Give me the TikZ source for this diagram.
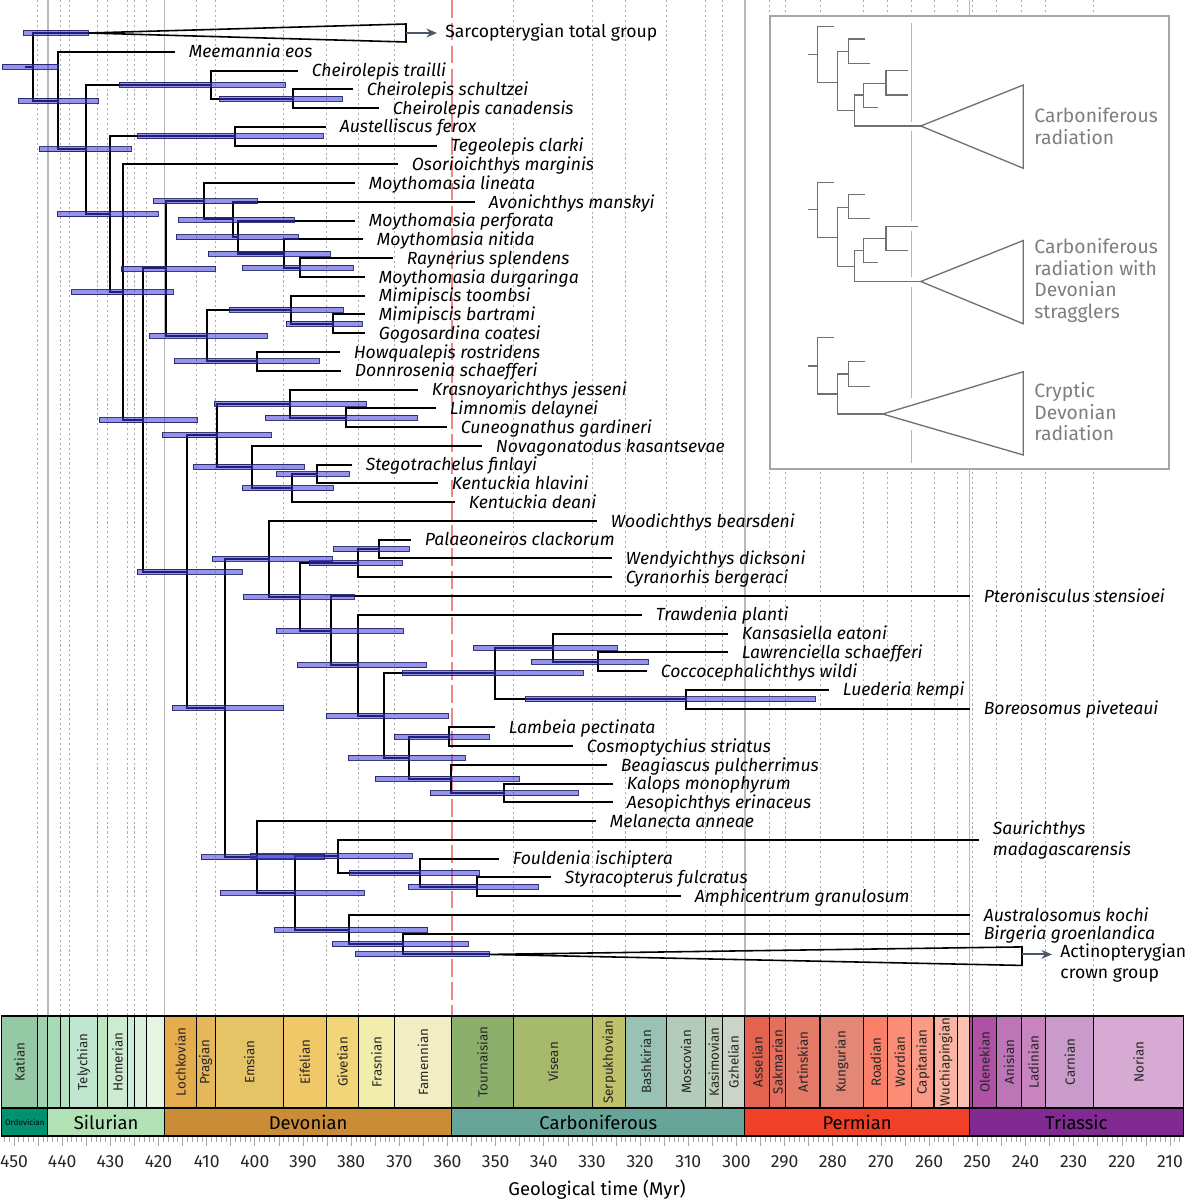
\documentclass[tikz,border=0pt]{standalone}
\usepackage{fontspec}
\setmainfont{Fira Sans}
\usetikzlibrary{positioning,calc,arrows.meta}

% tree colours
\definecolor{hpdfill}{RGB}{60,60,220}
\definecolor{hpdline}{RGB}{25,25,95}
\definecolor{arrowgrey}{RGB}{75,88,108}
\definecolor{insetgrey}{RGB}{112,112,112}
\definecolor{devline}{RGB}{240,135,135}
\definecolor{insetred}{RGB}{232,160,165}
% stage colours
\definecolor{Kat}{HTML}{95C8A5}\definecolor{Hir}{HTML}{A3D2B2}
\definecolor{Rhu}{HTML}{A6DCB5}\definecolor{Aer}{HTML}{B3E1C2}
\definecolor{Tel}{HTML}{BFE6CF}\definecolor{She}{HTML}{BFE6C3}
\definecolor{Hom}{HTML}{CCEBD1}\definecolor{Gor}{HTML}{CCECDD}
\definecolor{Lud}{HTML}{D9F0DF}\definecolor{Pri}{HTML}{E6F5E1}
\definecolor{Loc}{HTML}{E5AC4D}\definecolor{Pra}{HTML}{E5B75A}
\definecolor{Ems}{HTML}{E5C468}\definecolor{Eif}{HTML}{F1C868}
\definecolor{Giv}{HTML}{F1D576}\definecolor{Fra}{HTML}{F2EDAD}
\definecolor{Fam}{HTML}{F2EDC5}
\definecolor{Tou}{HTML}{8CB06C}\definecolor{Vis}{HTML}{A6B96C}
\definecolor{Ser}{HTML}{BFC26B}\definecolor{Bas}{HTML}{99C2B5}
\definecolor{Mos}{HTML}{B3CBB9}\definecolor{Kas}{HTML}{BFD0BA}
\definecolor{Gzh}{HTML}{CCD4C7}
\definecolor{Ass}{HTML}{E36350}\definecolor{Sak}{HTML}{E36F5C}
\definecolor{Art}{HTML}{E37B68}\definecolor{Kun}{HTML}{E38776}
\definecolor{Roa}{HTML}{FB8069}\definecolor{Wor}{HTML}{FB8D76}
\definecolor{Cap}{HTML}{FB9A85}\definecolor{Wuc}{HTML}{FCB4A2}
\definecolor{Cha}{HTML}{FCC0B2}
\definecolor{Ind}{HTML}{A4469F}\definecolor{Ole}{HTML}{B051A5}
\definecolor{Ani}{HTML}{BC75B7}\definecolor{Lad}{HTML}{C983BF}
\definecolor{Car}{HTML}{C99BCB}\definecolor{Nor}{HTML}{D6AAD3}
% period colours
\definecolor{Ord}{HTML}{009270}\definecolor{Sil}{HTML}{B3E1B6}
\definecolor{Dev}{HTML}{CB8C37}\definecolor{Carb}{HTML}{67A599}
\definecolor{Perm}{HTML}{F04028}\definecolor{Tri}{HTML}{812B92}

\pgfdeclarelayer{background}
\pgfdeclarelayer{bars}
\pgfsetlayers{background,main,bars}

\tikzset{
  branch/.style={line width=1.15pt, line join=miter},
  hpd/.style={fill=hpdfill, fill opacity=0.55, draw=hpdline, draw opacity=0.85, line width=0.5pt},
  taxon/.style={font=\fontsize{10}{12}\selectfont\itshape, inner sep=0pt, text height=0.7em, text depth=0pt},
  twoline/.style={font=\fontsize{10}{12}\selectfont\itshape, inner sep=0pt, align=left},
  cladelabel/.style={font=\fontsize{10}{12}\selectfont, inner sep=0pt, align=left},
  grouptri/.style={line width=0.9pt, line join=miter},
  grouparrow/.style={arrowgrey, line width=1.1pt, -{Stealth[length=6pt,width=5pt]}},
  stagegrid/.style={gray!65, line width=0.5pt, dash pattern=on 1.2pt off 1.6pt},
  periodgrid/.style={gray!55, line width=0.8pt},
  devgrid/.style={devline, line width=1.1pt, dash pattern=on 10pt off 3pt},
  stagebox/.style={draw=black, line width=0.6pt},
  stagename/.style={rotate=90, font=\fontsize{7.6}{8}\selectfont, text=black!85},
  periodname/.style={font=\fontsize{10.5}{12}\selectfont},
  ticklabel/.style={font=\fontsize{10}{12}\selectfont, text=black!85},
  tick/.style={gray!70, line width=0.4pt},
  mini/.style={insetgrey, line width=0.75pt, line join=miter},
  minilabel/.style={insetgrey!90, font=\fontsize{11}{12.2}\selectfont, align=left, inner sep=0pt},
}

% HPD bar at the height of a named node
\newcommand{\hpdbar}[3]{%
  \begin{pgfonlayer}{bars}
    \draw[hpd] (#2,0 |- #1) ++(0,-0.133) rectangle ++(#3-#2,0.266);
  \end{pgfonlayer}}
% node: name, x, upper child, lower child, bar from, bar to
\newcommand{\clade}[6]{%
  \coordinate (m#1) at ($(#3)!0.5!(#4)$);
  \coordinate (#1) at (#2,0 |- m#1);
  \draw[branch] (#3) -| (#1) |- (#4);
  \hpdbar{#1}{#5}{#6}}

\begin{document}
\begin{tikzpicture}[x=0.02cm, y=-0.02cm]
\useasboundingbox (0,0) rectangle (1194,1200);

% time grid
\begin{pgfonlayer}{background}
  \foreach \gx in {37.1,60.5,69.7,97.6,107.9,127.1,134.7,146.6,196.3,215.1,283.2,326.4,358.6,394.2,513.6,592.4,625.8,666.3,705.6,722.1,769.9,785.3,820,863.5,887.8,911.6,934,957.9,972.5,996.4,1021.4,1045.7,1093.9}
    \draw[stagegrid] (\gx,0) -- (\gx,1016);
  \foreach \gx in {47.8,164.6,744.9,969.4}
    \draw[periodgrid] (\gx,0) -- (\gx,1016);
  \draw[devgrid] (451.6,0) -- (451.6,1016);
\end{pgfonlayer}

% tree, rows of 18.77px
\begin{scope}[y=-0.3754cm, yshift=-0.2846cm]
  \foreach \n/\r/\x/\l in {Meem/2/175/Meemannia eos, Trai/3/298/Cheirolepis trailli,
      Schu/4/353/Cheirolepis schultzei, Cana/5/379/Cheirolepis canadensis,
      Ausf/6/326/Austelliscus ferox, Tege/7/437/Tegeolepis clarki,
      Osor/8/398/Osorioichthys marginis, MLin/9/355/Moythomasia lineata,
      Avon/10/475/Avonichthys manskyi, MPer/11/355/Moythomasia perforata,
      MNit/12/363/Moythomasia nitida, Rayn/13/393/Raynerius splendens,
      MDur/14/365/Moythomasia durgaringa, MToo/15/365/Mimipiscis toombsi,
      MBar/16/365/Mimipiscis bartrami, Gogo/17/365/Gogosardina coatesi,
      Howq/18/340/Howqualepis rostridens, Donn/19/341/Donnrosenia schaefferi,
      Kras/20/418/Krasnoyarichthys jesseni, Limn/21/436/Limnomis delaynei,
      Cune/22/447/Cuneognathus gardineri, Nova/23/482/Novagonatodus kasantsevae,
      Steg/24/352/Stegotrachelus finlayi, KHla/25/438/Kentuckia hlavini,
      KDea/26/455/Kentuckia deani, Wood/27/597/Woodichthys bearsdeni,
      Pala/28/411/Palaeoneiros clackorum, Wend/29/612/Wendyichthys dicksoni,
      Cyra/30/612/Cyranorhis bergeraci, Pter/31/970/Pteronisculus stensioei,
      Traw/32/642/Trawdenia planti, Kans/33/728/Kansasiella eatoni,
      Lawr/34/728/Lawrenciella schaefferi, Cocc/35/647/Coccocephalichthys wildi,
      Lued/36/829/Luederia kempi, Bore/37/970/Boreosomus piveteaui,
      Lamb/38/495/Lambeia pectinata, Cosm/39/573/Cosmoptychius striatus,
      Beag/40/607/Beagiascus pulcherrimus, Kalo/41/613/Kalops monophyrum,
      Aeso/42/613/Aesopichthys erinaceus, Mela/43/596/Melanecta anneae,
      Foul/45/499/Fouldenia ischiptera, Styr/46/551/Styracopterus fulcratus,
      Amph/47/681/Amphicentrum granulosum, Ausk/48/970/Australosomus kochi,
      Birg/49/970/Birgeria groenlandica}
  {
    \coordinate (t\n) at (\x,\r);
    \node[taxon, right=0.27cm of t\n] (l\n) {\l};
  }
  \coordinate (tSaur) at (979,44);
  \node[twoline, right=0.27cm of tSaur] (lSaur) {Saurichthys\\madagascarensis};

  % collapsed groups
  \coordinate (tSarco) at (88,1);
  \coordinate (bSarco) at (406,1);
  \coordinate (aSarco) at (437,1);
  \draw[grouptri] (tSarco) -- ([yshift=0.18cm]bSarco) -- ([yshift=-0.18cm]bSarco) -- cycle;
  \draw[grouparrow] (bSarco) -- (aSarco);
  \node[cladelabel, right=0.16cm of aSarco] (lSarco) {Sarcopterygian total group};
  \hpdbar{tSarco}{23}{88}

  \coordinate (tActi) at (489,50.1);
  \coordinate (bActi) at (1022,50.1);
  \coordinate (aActi) at (1052,50.1);
  \draw[grouptri] (tActi) -- ([yshift=0.15cm]bActi) -- ([yshift=-0.22cm]bActi) -- cycle;
  \draw[grouparrow] (bActi) -- (aActi);
  \node[cladelabel, right=0.16cm of aActi, yshift=-0.18cm] (lActi) {Actinopterygian\\crown group};
  \hpdbar{tActi}{355}{489}

  % internal nodes, from the tips down to the root
  \foreach \n/\x/\a/\b/\lo/\hi in {nD/293/tSchu/tCana/219/342,
      nC/211/tTrai/nD/119/285, nF/235/tAusf/tTege/137/323,
      nN1/300/tRayn/tMDur/242/353, nN2/284/tMNit/nN1/208/330,
      nN3/238/tMPer/nN2/176/298, nN4/233/tAvon/nN3/178/294,
      nN5/204/tMLin/nN4/153/257, nQ2/333/tMBar/tGogo/286/362,
      nQ/291/tMToo/nQ2/229/343, nR/257/tHowq/tDonn/174/319,
      nP/207/nQ/nR/149/267, nI/166/nN5/nP/121/215,
      nV2/346/tLimn/tCune/265/417, nV/290/tKras/nV2/214/366,
      nW3/317/tSteg/tKHla/276/349, nW2/292/nW3/tKDea/242/333,
      nW/252/tNova/nW2/193/304, nT/217/nV/nW/162/271,
      nX5/379/tPala/tWend/333/409, nX3/358/nX5/tCyra/309/402,
      nY1/598/tLawr/tCocc/531/648, nY2/553/tKans/nY1/473/617,
      nY3/686/tLued/tBore/525/815, nY4/495/nY2/nY3/402/583,
      nY5/449/tLamb/tCosm/394/489, nY6/504/tKalo/tAeso/430/578,
      nY7/451/tBeag/nY6/375/519, nY8/409/nY5/nY7/348/465,
      nX7/384/nY4/nY8/326/448, nX6/358/tTraw/nX7/297/426,
      nX4/331/tPter/nX6/276/403, nX2/300/nX3/nX4/243/354,
      nX/269/tWood/nX2/212/332,
      nZ6/477/tStyr/tAmph/408/538, nZ5/420/tFoul/nZ6/349/479,
      nZ3/338/tSaur/nZ5/250/412, nZ7/403/tBirg/tActi/332/468,
      nZ4/349/tAusk/nZ7/274/427, nZ2/295/nZ3/nZ4/220/364,
      nZ/257/tMela/nZ2/201/324,
      nU/225/nX/nZ/172/283, nS/187/nT/nU/137/242,
      nH/143/nI/nS/99/197, nG/123/tOsor/nH/71/173,
      nE/110/nF/nG/57/158, nB/86/nC/nE/39/131,
      nA/58/tMeem/nB/18/98, nRoot/33/tSarco/nA/2/58}
    {\clade{\n}{\x}{\a}{\b}{\lo}{\hi}}
  \draw[branch] (nRoot) -- ++(-8,0);
\end{scope}

% inset with the three scenarios
\draw[gray!70, line width=1pt, fill=white] (770,16) rectangle (1169,469);
\foreach \ya/\yb in {22.7/121.5,130.5/220.5,230.5/277,286.5/398,430/463.3}
  \draw[insetred, line width=0.6pt] (911.7,\ya) -- (911.7,\yb);
\foreach \dy/\fx in {0/908.3,155.5/918.3}{
  \begin{scope}[yshift=-\dy*0.02cm]
    \draw[mini] (807.7,54.3) -- (817.3,54.3);
    \draw[mini] (834,26.7) -| (817.3,54.3) |- (837.7,82.3);
    \draw[mini] (848.3,51.7) -| (837.7,82.3) |- (854.3,110.7);
    \draw[mini] (865,39) -| (848.3,51.7) |- (870,63.3);
    \draw[mini] (863.3,95) -| (854.3,110.7) |- (920.7,126);
    \draw[mini] (886,83.3) -| (863.3,95) |- (878.3,107.3);
    \draw[mini] (\fx,70.7) -| (886,83.3) |- (908.3,95);
    \draw[mini] (920.7,126) -- (1023.3,85) -- (1023.3,168.3) -- cycle;
  \end{scope}}
\draw[mini] (807.7,366) -- (817.3,366);
\draw[mini] (834,337.7) -| (817.3,366) |- (837.7,394);
\draw[mini] (848.3,374) -| (837.7,394) |- (882.7,414);
\draw[mini] (865,361.7) -| (848.3,374) |- (870,386.7);
\draw[mini] (882.7,414) -- (1023.3,371.7) -- (1023.3,455) -- cycle;
\node[minilabel, anchor=west] (sc1) at (1034,126) {Carboniferous\\radiation};
\node[minilabel, anchor=west] (sc2) at (1034,280.5) {Carboniferous\\radiation with\\Devonian\\stragglers};
\node[minilabel, anchor=west] (sc3) at (1034,412) {Cryptic\\Devonian\\radiation};

% geological time scale
\foreach \a/\b/\c/\l in {1.9/37.1/Kat/Katian, 37.1/47.8/Hir/, 47.8/60.5/Rhu/,
    60.5/69.7/Aer/, 69.7/97.6/Tel/Telychian, 97.6/107.9/She/,
    107.9/127.1/Hom/Homerian, 127.1/134.7/Gor/, 134.7/146.6/Lud/,
    146.6/164.6/Pri/, 164.6/196.3/Loc/Lochkovian, 196.3/215.1/Pra/Pragian,
    215.1/283.2/Ems/Emsian, 283.2/326.4/Eif/Eifelian, 326.4/358.6/Giv/Givetian,
    358.6/394.2/Fra/Frasnian, 394.2/451.6/Fam/Famennian,
    451.6/513.6/Tou/Tournaisian, 513.6/592.4/Vis/Visean,
    592.4/625.8/Ser/Serpukhovian, 625.8/666.3/Bas/Bashkirian,
    666.3/705.6/Mos/Moscovian, 705.6/722.1/Kas/Kasimovian,
    722.1/744.9/Gzh/Gzhelian, 744.9/769.9/Ass/Asselian,
    769.9/785.3/Sak/Sakmarian, 785.3/820/Art/Artinskian,
    820/863.5/Kun/Kungurian, 863.5/887.8/Roa/Roadian, 887.8/911.6/Wor/Wordian,
    911.6/934/Cap/Capitanian, 934/957.9/Wuc/Wuchiapingian, 957.9/969.4/Cha/,
    969.4/972.5/Ind/, 972.5/996.4/Ole/Olenekian, 996.4/1021.4/Ani/Anisian,
    1021.4/1045.7/Lad/Ladinian, 1045.7/1093.9/Car/Carnian,
    1093.9/1183.2/Nor/Norian}
{
  \draw[stagebox, fill=\c] (\a,1016) rectangle (\b,1108);
  \node[stagename] at ({(\a+\b)/2},1062) {\l};
}
\foreach \a/\b/\c/\l in {47.8/164.6/Sil/Silurian, 164.6/451.6/Dev/Devonian,
    451.6/744.9/Carb/Carboniferous, 744.9/969.4/Perm/Permian,
    969.4/1183.2/Tri/Triassic}
{
  \draw[stagebox, fill=\c] (\a,1108) rectangle (\b,1136);
  \node[periodname] at ({(\a+\b)/2},1122) {\l};
}
\draw[stagebox, fill=Ord] (1.9,1108) rectangle (47.8,1136);
\node[font=\fontsize{4.6}{5}\selectfont, inner sep=0pt] at (24.8,1122) {Ordovician};

% axis
\foreach \t in {208,...,452}
  \draw[tick] ({14+(450-\t)*4.8167},1137) -- ++(0,5);
\foreach \t in {210,215,...,450}
  \draw[tick] ({14+(450-\t)*4.8167},1137) -- ++(0,9);
\foreach \t in {450,440,...,210}
  \node[ticklabel] at ({14+(450-\t)*4.8167},1162) {\t};
\node[periodname] (axis) at (597,1190) {Geological time (Myr)};
\end{tikzpicture}
\end{document}
